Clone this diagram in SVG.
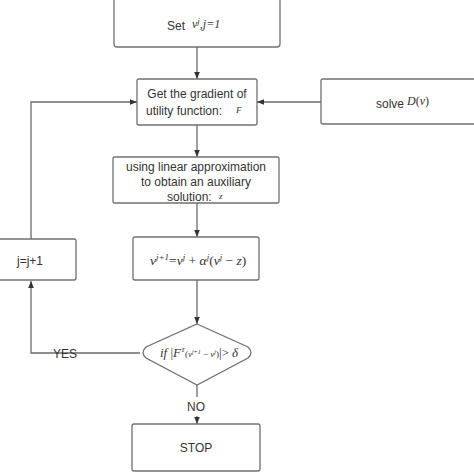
<svg xmlns="http://www.w3.org/2000/svg" width="474" height="474" viewBox="0 0 474 474">
<defs>
<marker id="ah" viewBox="0 0 10 10" refX="10" refY="5" markerWidth="7" markerHeight="7" orient="auto" markerUnits="userSpaceOnUse"><path d="M0,1 L10,5 L0,9 z" fill="#333"/></marker>
</defs>
<style>
.box{fill:#fff;stroke:#707070;stroke-width:1.3}
.ln{fill:none;stroke:#6a6a6a;stroke-width:1.3}
.t{font-family:"Liberation Sans",Arial,sans-serif;font-size:12px;fill:#333}
.m{font-family:"Liberation Serif","Times New Roman",serif;font-style:italic;fill:#333}
</style>
<rect width="474" height="474" fill="#fff"/>
<g id="connectors">
<path class="ln" d="M197,47 V79" marker-end="url(#ah)"/>
<path class="ln" d="M321,102 H257" marker-end="url(#ah)"/>
<path class="ln" d="M197,125 V157" marker-end="url(#ah)"/>
<path class="ln" d="M197,203 V237" marker-end="url(#ah)"/>
<path class="ln" d="M197,280 V324" marker-end="url(#ah)"/>
<path class="ln" d="M197,385 V397"/>
<path class="ln" d="M197,416 V424" marker-end="url(#ah)"/>
<path class="ln" d="M140,353 H31 V281" marker-end="url(#ah)"/>
<path class="ln" d="M31,239 V102 H137" marker-end="url(#ah)"/>
<text class="t" x="65" y="358" text-anchor="middle">YES</text>
<text class="t" x="196" y="411" text-anchor="middle">NO</text>
</g>
<g id="set">
<rect class="box" x="114" y="-2" width="166" height="49" rx="3"/>
<text class="t" x="167" y="30">Set</text>
<text class="m" x="192" y="28" font-size="12">ν<tspan font-size="9" dy="-4">j</tspan><tspan dy="4">,j=1</tspan></text>
</g>
<g id="gradient">
<rect class="box" x="137" y="79" width="120" height="46" rx="2"/>
<text class="t" x="197" y="98" text-anchor="middle">Get the gradient of</text>
<text class="t" x="146" y="115">utility function:</text>
<text class="m" x="236" y="113" font-size="9">F</text>
</g>
<g id="solve">
<rect class="box" x="321" y="79" width="160" height="45" rx="2"/>
<text class="t" x="376" y="108">solve</text>
<text class="m" x="407" y="105" font-size="12">D<tspan font-style="normal">(</tspan>v<tspan font-style="normal">)</tspan></text>
</g>
<g id="aux">
<rect class="box" x="113" y="157" width="166" height="46" rx="2"/>
<text class="t" x="196" y="171" text-anchor="middle">using linear approximation</text>
<text class="t" x="196" y="186" text-anchor="middle">to obtain an auxiliary</text>
<text class="t" x="167" y="201">solution:</text>
<text class="m" x="219" y="199" font-size="9">z</text>
</g>
<g id="update">
<rect class="box" x="133" y="237" width="126" height="43" rx="2"/>
<text class="m" x="150" y="265" font-size="13.5">ν<tspan font-size="9" dy="-5">j+1</tspan><tspan dy="5" font-style="normal">=</tspan>ν<tspan font-size="9" dy="-5">j</tspan><tspan dy="5" font-style="normal"> + </tspan>α<tspan font-size="9" dy="-5">j</tspan><tspan dy="5" font-style="normal">(</tspan>ν<tspan font-size="9" dy="-5">j</tspan><tspan dy="5" font-style="normal"> − </tspan>z<tspan font-style="normal">)</tspan></text>
</g>
<g id="jinc">
<rect class="box" x="-2" y="239" width="78" height="41" rx="2"/>
<text class="t" x="30" y="265" text-anchor="middle">j=j+1</text>
</g>
<g id="decision">
<path class="box" d="M197,324 L248,347 Q254,352.5 248,358 L197,385 L146,358 Q140,352.5 146,347 Z"/>
<text class="m" x="160" y="357" font-size="13">if <tspan font-style="normal">|</tspan>F<tspan font-size="7" dy="-5">T</tspan><tspan dy="5" font-size="9" font-style="normal">(</tspan><tspan font-size="9">ν</tspan><tspan font-size="6" dy="-3">j+1</tspan><tspan dy="3" font-size="9" font-style="normal"> − </tspan><tspan font-size="9">ν</tspan><tspan font-size="6" dy="-3">j</tspan><tspan dy="3" font-size="9" font-style="normal">)</tspan><tspan font-style="normal">|&gt; </tspan>δ</text>
</g>
<g id="stop">
<rect class="box" x="132" y="424" width="128" height="47" rx="2"/>
<text class="t" x="196" y="452" text-anchor="middle">STOP</text>
</g>
</svg>
